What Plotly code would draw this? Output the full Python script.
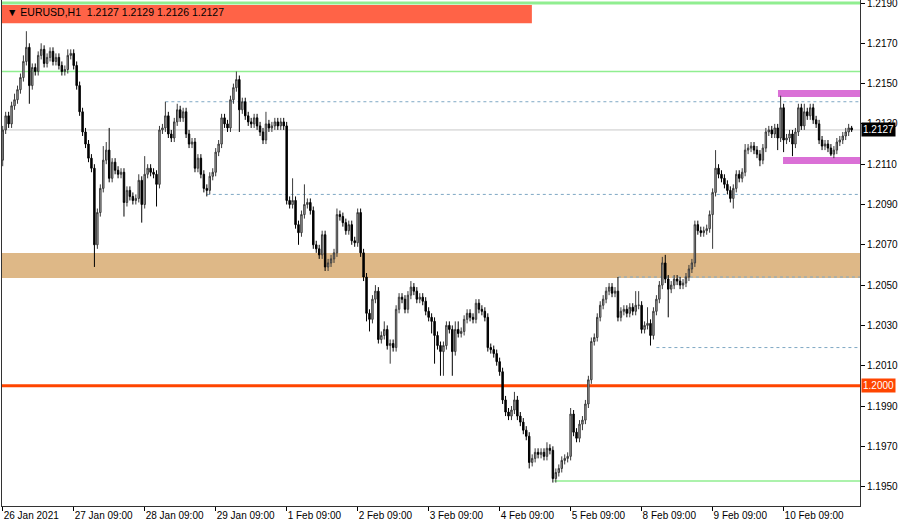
import plotly.graph_objects as go

# ---------------- data ----------------
tick_labels = ["26 Jan 2021", "27 Jan 09:00", "28 Jan 09:00", "29 Jan 09:00",
               "1 Feb 09:00", "2 Feb 09:00", "3 Feb 09:00", "4 Feb 09:00",
               "5 Feb 09:00", "8 Feb 09:00", "9 Feb 09:00", "10 Feb 09:00"]
tick_bars = [0, 24, 48, 72, 96, 120, 144, 168, 192, 216, 240, 264]

first_open = 1.2112
close = [
    1.2127, 1.2134, 1.2130, 1.2139, 1.2142, 1.2147, 1.2153, 1.2161, 1.2168, 1.2149, 1.2158, 1.2156,
    1.2164, 1.2167, 1.2160, 1.2163, 1.2166, 1.2161, 1.2163, 1.2159, 1.2156, 1.2157, 1.2164, 1.2165,
    1.2159, 1.2149, 1.2136, 1.2126, 1.2120, 1.2113, 1.2108, 1.2070, 1.2086, 1.2098, 1.2112, 1.2117,
    1.2103, 1.2111, 1.2107, 1.2105, 1.2106, 1.2091, 1.2097, 1.2094, 1.2092, 1.2093, 1.2102, 1.2090,
    1.2105, 1.2108, 1.2106, 1.2105, 1.2100, 1.2127, 1.2128, 1.2134, 1.2125, 1.2123, 1.2131, 1.2137,
    1.2133, 1.2136, 1.2125, 1.2120, 1.2121, 1.2108, 1.2113, 1.2105, 1.2098, 1.2097, 1.2104, 1.2106,
    1.2116, 1.2120, 1.2133, 1.2130, 1.2128, 1.2142, 1.2148, 1.2152, 1.2137, 1.2141, 1.2134, 1.2131,
    1.2130, 1.2133, 1.2129, 1.2126, 1.2122, 1.2130, 1.2128, 1.2129, 1.2131, 1.2129, 1.2131, 1.2129,
    1.2092, 1.2090, 1.2092, 1.2080, 1.2076, 1.2085, 1.2090, 1.2091, 1.2087, 1.2070, 1.2068, 1.2065,
    1.2075, 1.2059, 1.2061, 1.2063, 1.2066, 1.2085, 1.2084, 1.2081, 1.2077, 1.2080, 1.2072, 1.2071,
    1.2086, 1.2066, 1.2054, 1.2036, 1.2033, 1.2043, 1.2047, 1.2023, 1.2025, 1.2028, 1.2020, 1.2021,
    1.2019, 1.2038, 1.2044, 1.2043, 1.2038, 1.2045, 1.2049, 1.2047, 1.2043, 1.2044, 1.2042, 1.2037,
    1.2034, 1.2032, 1.2025, 1.2020, 1.2017, 1.2020, 1.2030, 1.2028, 1.2017, 1.2028, 1.2026, 1.2027,
    1.2033, 1.2036, 1.2034, 1.2033, 1.2041, 1.2038, 1.2037, 1.2034, 1.2019, 1.2018, 1.2016, 1.2012,
    1.2007, 1.1993, 1.1987, 1.1985, 1.1988, 1.1993, 1.1985, 1.1982, 1.1978, 1.1975, 1.1962, 1.1964,
    1.1967, 1.1966, 1.1967, 1.1965, 1.1969, 1.1968, 1.1954, 1.1957, 1.1959, 1.1963, 1.1964, 1.1965,
    1.1986, 1.1977, 1.1974, 1.1981, 1.1983, 1.1991, 1.2003, 1.2022, 1.2024, 1.2034, 1.2040, 1.2043,
    1.2047, 1.2049, 1.2046, 1.2047, 1.2034, 1.2037, 1.2038, 1.2036, 1.2039, 1.2037, 1.2040, 1.2040,
    1.2028, 1.2030, 1.2031, 1.2025, 1.2037, 1.2043, 1.2050, 1.2061, 1.2053, 1.2048, 1.2050, 1.2053,
    1.2052, 1.2050, 1.2051, 1.2054, 1.2058, 1.2061, 1.2080, 1.2077, 1.2076, 1.2077, 1.2078, 1.2085,
    1.2096, 1.2108, 1.2105, 1.2103, 1.2100, 1.2097, 1.2093, 1.2098, 1.2105, 1.2103, 1.2106, 1.2117,
    1.2118, 1.2119, 1.2117, 1.2115, 1.2112, 1.2118, 1.2126, 1.2127, 1.2125, 1.2128, 1.2123, 1.2138,
    1.2122, 1.2123, 1.2125, 1.2120, 1.2126, 1.2138, 1.2129, 1.2136, 1.2134, 1.2138, 1.2132, 1.2130,
    1.2122, 1.2119, 1.2120, 1.2118, 1.2115, 1.2117, 1.2121, 1.2122, 1.2124, 1.2126, 1.2128, 1.2127,
]
# wick lengths in pips (0.0001) above / below the candle body
wick_up = [
    2, 2, 2, 2, 3, 2, 2, 3, 8, 2, 2, 2, 2, 3, 2, 2, 2, 2, 2, 2, 2, 2, 3, 2,
    2, 2, 2, 2, 2, 2, 2, 2, 2, 2, 7, 4, 11, 2, 2, 2, 2, 2, 2, 2, 2, 2, 3, 2,
    9, 2, 2, 2, 2, 2, 2, 7, 2, 2, 2, 3, 2, 2, 2, 2, 2, 2, 2, 2, 2, 2, 2, 2,
    2, 2, 2, 2, 2, 2, 2, 4, 2, 2, 2, 2, 2, 2, 2, 2, 2, 6, 2, 2, 2, 2, 2, 2,
    2, 2, 11, 2, 2, 2, 10, 2, 2, 2, 2, 2, 2, 2, 2, 2, 2, 3, 2, 2, 2, 2, 2, 2,
    2, 2, 2, 2, 2, 2, 3, 2, 2, 4, 2, 2, 2, 2, 2, 2, 2, 2, 3, 2, 2, 2, 2, 2,
    2, 2, 2, 2, 2, 2, 2, 2, 2, 4, 4, 2, 2, 2, 2, 2, 2, 2, 2, 2, 2, 2, 2, 2,
    2, 2, 2, 2, 2, 4, 2, 2, 2, 2, 2, 2, 2, 2, 2, 2, 3, 2, 2, 2, 2, 2, 2, 2,
    3, 2, 2, 2, 2, 2, 2, 2, 2, 2, 2, 2, 2, 2, 2, 2, 7, 2, 2, 2, 2, 2, 7, 7,
    2, 2, 8, 2, 2, 2, 2, 3, 4, 2, 2, 2, 2, 2, 2, 2, 2, 2, 2, 2, 2, 2, 2, 2,
    2, 9, 2, 2, 2, 2, 2, 2, 2, 2, 2, 3, 2, 2, 2, 2, 2, 2, 2, 2, 2, 2, 2, 6,
    2, 2, 2, 2, 2, 2, 2, 4, 2, 2, 2, 2, 2, 2, 2, 2, 2, 2, 2, 2, 2, 2, 2, 1,
]
wick_dn = [
    3, 2, 2, 2, 2, 2, 2, 2, 2, 9, 2, 2, 2, 2, 2, 2, 2, 2, 2, 2, 2, 2, 2, 2,
    2, 2, 2, 2, 2, 2, 2, 11, 2, 2, 2, 2, 2, 2, 2, 2, 2, 7, 2, 2, 2, 2, 2, 9,
    2, 2, 2, 2, 11, 2, 2, 2, 2, 2, 2, 2, 2, 2, 2, 2, 2, 2, 2, 2, 2, 3, 2, 2,
    2, 2, 2, 2, 2, 2, 2, 2, 11, 2, 2, 2, 2, 2, 2, 2, 2, 2, 2, 2, 2, 2, 2, 2,
    2, 2, 2, 2, 6, 2, 2, 2, 2, 2, 2, 2, 2, 2, 2, 2, 2, 2, 2, 2, 2, 2, 2, 2,
    2, 2, 2, 4, 6, 2, 2, 2, 2, 2, 2, 9, 2, 2, 2, 2, 2, 2, 2, 2, 2, 2, 2, 2,
    2, 6, 14, 2, 12, 12, 2, 2, 12, 2, 2, 2, 2, 2, 2, 2, 2, 2, 2, 2, 2, 2, 2, 2,
    2, 2, 2, 2, 2, 2, 2, 2, 2, 2, 3, 2, 2, 2, 2, 2, 2, 2, 2, 2, 2, 2, 2, 2,
    2, 2, 2, 2, 3, 2, 2, 2, 2, 2, 2, 2, 2, 2, 2, 2, 2, 2, 2, 2, 2, 2, 2, 2,
    2, 2, 2, 5, 2, 2, 2, 2, 2, 14, 2, 2, 2, 2, 2, 2, 2, 2, 2, 2, 2, 2, 2, 2,
    17, 2, 2, 2, 2, 2, 2, 5, 2, 2, 2, 2, 2, 2, 2, 2, 3, 2, 2, 2, 2, 2, 6, 2,
    6, 2, 2, 6, 2, 2, 2, 2, 2, 2, 2, 2, 2, 2, 2, 2, 1, 2, 2, 2, 2, 2, 2, 1,
]

y_ticks = [1.1950, 1.1970, 1.1990, 1.2010, 1.2030, 1.2050, 1.2070,
           1.2090, 1.2110, 1.2130, 1.2150, 1.2170, 1.2190]

header_text = "▼ EURUSD,H1  1.2127 1.2129 1.2126 1.2127"
bid_price = 1.2127
round_level = 1.2000

# drawn objects (price levels, zones)
tan_zone = (1.20535, 1.20659)
red_box = (1.2180, 1.2189, 178.9)           # y0, y1, x end (bar index)
top_green = 1.2190
green_mid = 1.2156
green_low = (1.19528, 186.5)
dotted_levels = [(1.2141, 55), (1.2095, 69), (1.2054, 208), (1.2019, 221)]
pink_boxes = [(1.21433, 1.21468, 262.1), (1.21101, 1.21136, 263.8)]

# ---------------- build ----------------
x = list(range(len(close)))
opens = [first_open] + close[:-1]
highs = [max(o, c) + u * 0.0001 for o, c, u in zip(opens, close, wick_up)]
lows = [min(o, c) - d * 0.0001 for o, c, d in zip(opens, close, wick_dn)]

X0, X1 = -0.24, 289.83
Y0, Y1 = 1.194037, 1.219149

fig = go.Figure()
fig.add_trace(go.Candlestick(
    x=x, open=opens, high=highs, low=lows, close=close,
    increasing=dict(line=dict(color="#3a3a3a", width=1), fillcolor="#b4b4b4"),
    decreasing=dict(line=dict(color="#000000", width=1), fillcolor="#000000"),
    whiskerwidth=0, showlegend=False, hoverinfo="skip",
))

shapes = []
shapes.append(dict(type="rect", xref="paper", yref="y", x0=0, x1=1,
                   y0=tan_zone[0], y1=tan_zone[1], fillcolor="#deb887",
                   line=dict(width=0), layer="below"))
shapes.append(dict(type="rect", xref="x", yref="y", x0=X0, x1=red_box[2],
                   y0=red_box[0], y1=red_box[1], fillcolor="#ff6347",
                   line=dict(width=0), layer="below"))
shapes.append(dict(type="line", xref="paper", yref="y", x0=0, x1=1,
                   y0=top_green, y1=top_green, line=dict(color="#90ee90", width=3),
                   layer="below"))
shapes.append(dict(type="line", xref="paper", yref="y", x0=0, x1=1,
                   y0=green_mid, y1=green_mid, line=dict(color="#90ee90", width=1.5),
                   layer="below"))
shapes.append(dict(type="line", xref="x", yref="y", x0=green_low[1], x1=X1,
                   y0=green_low[0], y1=green_low[0], line=dict(color="#90ee90", width=1.5),
                   layer="below"))
shapes.append(dict(type="line", xref="paper", yref="y", x0=0, x1=1,
                   y0=bid_price, y1=bid_price, line=dict(color="#c8c8c8", width=1),
                   layer="below"))
for lvl, xs in dotted_levels:
    shapes.append(dict(type="line", xref="x", yref="y", x0=xs, x1=X1,
                       y0=lvl, y1=lvl, line=dict(color="#7fa8c4", width=1, dash="dot"),
                       layer="below"))
shapes.append(dict(type="line", xref="paper", yref="y", x0=0, x1=1,
                   y0=round_level, y1=round_level, line=dict(color="#ff4500", width=3),
                   layer="below"))
for y0, y1, xs in pink_boxes:
    shapes.append(dict(type="rect", xref="x", yref="y", x0=xs, x1=X1,
                       y0=y0, y1=y1, fillcolor="#da70d6", line=dict(width=0),
                       layer="below"))

FONT = "Liberation Sans, Arial, sans-serif"
annotations = [
    dict(xref="paper", yref="paper", x=0.004, y=0.992, xanchor="left", yanchor="top",
         text=header_text, showarrow=False, font=dict(family=FONT, size=10.5, color="#000")),
    dict(xref="paper", yref="y", x=1.001, y=bid_price, xanchor="left", yanchor="middle",
         text=f"{bid_price:.4f}", showarrow=False, bgcolor="#000000", borderpad=1,
         font=dict(family=FONT, size=10, color="#ffffff")),
    dict(xref="paper", yref="y", x=1.001, y=round_level, xanchor="left", yanchor="middle",
         text=f"{round_level:.4f}", showarrow=False, bgcolor="#ff4500", borderpad=1,
         font=dict(family=FONT, size=10, color="#ffffff")),
]

fig.update_layout(
    width=900, height=524,
    margin=dict(l=2, r=40, t=0, b=18, autoexpand=False),
    paper_bgcolor="#ffffff", plot_bgcolor="#ffffff",
    font=dict(family=FONT, size=10, color="#000000"),
    shapes=shapes, annotations=annotations, showlegend=False,
    xaxis=dict(range=[X0, X1], rangeslider=dict(visible=False), showgrid=False,
               zeroline=False, tickmode="array", tickvals=tick_bars, ticktext=tick_labels,
               ticks="outside", ticklen=4, tickcolor="#000", ticklabelposition="outside right",
               showline=True, linecolor="#333", linewidth=1, mirror=True, automargin=False,
               ticklabeloverflow="allow",
               tickfont=dict(family=FONT, size=10, color="#000")),
    yaxis=dict(range=[Y0, Y1], side="right", showgrid=False, zeroline=False,
               tickmode="array", tickvals=y_ticks, ticktext=[f"{v:.4f}" for v in y_ticks],
               ticks="outside", ticklen=4, tickcolor="#000", automargin=False,
               ticklabeloverflow="allow",
               showline=True, linecolor="#333", linewidth=1, mirror=True,
               tickfont=dict(family=FONT, size=10, color="#000")),
)

fig.write_html("out.html", config={"displayModeBar": False},
               post_script="document.body.style.margin='0';document.body.style.overflow='hidden';")
